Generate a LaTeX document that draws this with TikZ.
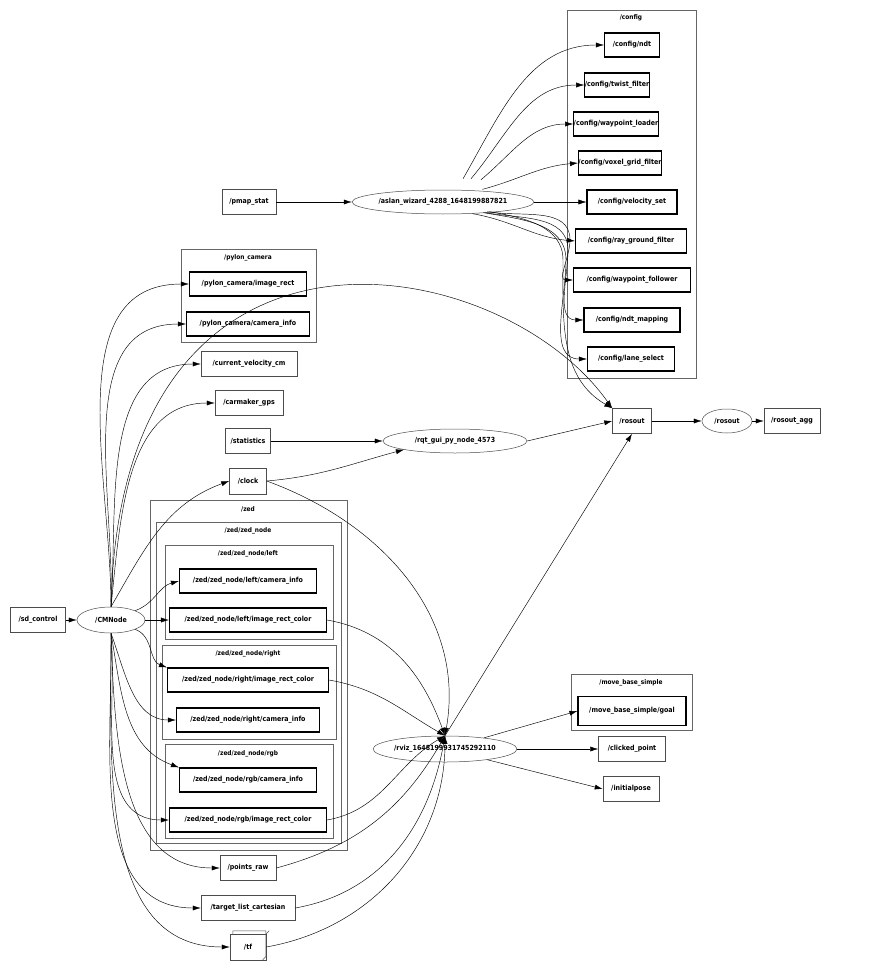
\documentclass[tikz,border=0pt]{standalone}
\usepackage{fontspec}
\setmainfont{DejaVu Sans Condensed}
\usetikzlibrary{arrows.meta,shapes.geometric}
\begin{document}
\begin{tikzpicture}[x=1pt,y=-1pt,
  every node/.style={font=\fontsize{7}{8}\selectfont\bfseries, inner sep=0pt},
  tp/.style={draw=black, line width=1.1pt, minimum height=24, rectangle},
  ft/.style={draw=black!70, line width=0.5pt, minimum height=25, rectangle},
  nd/.style={draw=black!70, line width=0.5pt, ellipse, minimum height=24},
  grp/.style={draw=black!60, line width=0.6pt},
  glab/.style={font=\fontsize{6.5}{8}\selectfont\bfseries},
  e/.style={draw=black, line width=0.45pt, -{Latex[length=8pt,width=5pt]}}]
\useasboundingbox (0,0) rectangle (874,971);
% groups
\draw[grp] (567,10) rectangle (696,378); \node[glab] at (631,18) {/config};
\draw[grp] (181,249) rectangle (316,342); \node[glab] at (248,258) {/pylon\_camera};
\draw[grp] (150,500) rectangle (347,850); \node[glab] at (248,509) {/zed};
\draw[grp] (156,522) rectangle (341,843); \node[glab] at (248,531) {/zed/zed\_node};
\draw[grp] (165,545) rectangle (333,639); \node[glab] at (248,554) {/zed/zed\_node/left};
\draw[grp] (162,645) rectangle (336,739); \node[glab] at (248,654) {/zed/zed\_node/right};
\draw[grp] (165,744) rectangle (333,838); \node[glab] at (248,754) {/zed/zed\_node/rgb};
\draw[grp] (571,674) rectangle (692,730); \node[glab] at (631,683) {/move\_base\_simple};
% config topics
\node[tp,minimum width=55] (ndt) at (632,45) {/config/ndt};
\node[tp,minimum width=57] (twist) at (617,85) {/config/twist\_filter};
\node[tp,minimum width=79] (wl) at (616,124) {/config/waypoint\_loader};
\node[tp,minimum width=74] (vox) at (620,163) {/config/voxel\_grid\_filter};
\node[tp,minimum width=90] (vel) at (632,202) {/config/velocity\_set};
\node[tp,minimum width=111] (ray) at (631,241) {/config/ray\_ground\_filter};
\node[tp,minimum width=117] (wf) at (632,280) {/config/waypoint\_follower};
\node[tp,minimum width=96] (ndtm) at (632,320) {/config/ndt\_mapping};
\node[tp,minimum width=87] (lane) at (631,359) {/config/lane\_select};
% other
\node[ft,minimum width=54] (pmap) at (249,202) {/pmap\_stat};
\node[nd,minimum width=180] (aslan) at (443,202) {/aslan\_wizard\_4288\_1648199887821};
\node[ft,minimum width=39] (rosoutT) at (632,421) {/rosout};
\node[nd,minimum width=50] (rosoutN) at (727,421) {/rosout};
\node[ft,minimum width=56] (agg) at (792,421) {/rosout\_agg};
\node[nd,minimum width=144] (rqt) at (455,441) {/rqt\_gui\_py\_node\_4573};
\node[ft,minimum width=45] (stat) at (248,441) {/statistics};
\node[ft,minimum width=37,minimum height=26] (clock) at (248,481) {/clock};
\node[tp,minimum width=117] (pir) at (248,284) {/pylon\_camera/image\_rect};
\node[tp,minimum width=123] (pci) at (248,324) {/pylon\_camera/camera\_info};
\node[ft,minimum width=96] (cvc) at (249,364) {/current\_velocity\_cm};
\node[ft,minimum width=68] (gps) at (249,403) {/carmaker\_gps};
\node[tp,minimum width=137] (lci) at (248,581) {/zed/zed\_node/left/camera\_info};
\node[tp,minimum width=157] (lir) at (248,620) {/zed/zed\_node/left/image\_rect\_color};
\node[tp,minimum width=161] (rir) at (248,680) {/zed/zed\_node/right/image\_rect\_color};
\node[tp,minimum width=143] (rci) at (248,720) {/zed/zed\_node/right/camera\_info};
\node[tp,minimum width=137] (gci) at (248,780) {/zed/zed\_node/rgb/camera\_info};
\node[tp,minimum width=157] (gir) at (248,820) {/zed/zed\_node/rgb/image\_rect\_color};
\node[ft,minimum width=55] (sd) at (38,620) {/sd\_control};
\node[nd,minimum width=68,minimum height=26] (cm) at (111,620) {/CMNode};
\node[ft,minimum width=56] (pts) at (248,868) {/points\_raw};
\node[ft,minimum width=94] (tlc) at (248,908) {/target\_list\_cartesian};
\node[ft,minimum width=36,minimum height=26] (tf) at (248,947) {/tf};
\draw[black!70,line width=0.5pt] (tf.north west)++(3,0) -- ++(0,-3) -- ++(33,0) -- ++(0,26) -- ++(-3,3);
\draw[black!70,line width=0.5pt] (tf.north east)++(0,0) -- ++(3,-3);
\node[nd,minimum width=140,minimum height=26] (rviz) at (445,749) {/rviz\_1648199931745292110};
\node[tp,minimum width=108,minimum height=29] (goal) at (632,711) {/move\_base\_simple/goal};
\node[ft,minimum width=67] (click) at (632,749) {/clicked\_point};
\node[ft,minimum width=56] (ipose) at (631,789) {/initialpose};
% edges
\draw[e] (sd) -- (cm);
\draw[e] (pmap) -- (aslan);
\draw[e] (aslan.north) ++(20,-11) to[out=60,in=180] (ndt.west);
\draw[e] (aslan.north) ++(28,-11) to[out=50,in=180] (twist.west);
\draw[e] (aslan.north) ++(38,-10) to[out=40,in=180] (wl.west);
\draw[e] (aslan.north east) ++(-25,-4) to[out=15,in=185] (vox.west);
\draw[e] (aslan) -- (vel);
\draw[e] (aslan.south east) ++(-35,3) to[out=-10,in=175] (ray.west);
\draw[e] (aslan.south east) ++(-20,1) to[out=-10,in=90] (570,240) to[out=-90,in=180] (wf.west);
\draw[e] (aslan.south east) ++(-22,2) to[out=-10,in=90] (568,250) to[out=-90,in=180] (ndtm.west);
\draw[e] (aslan.south east) ++(-24,2) to[out=-10,in=90] (566,260) to[out=-90,in=180] (lane.west);
\draw[e] (aslan.south east) ++(-18,1) to[out=-10,in=90] (563,260) to[out=-90,in=150] (rosoutT.north west);
\draw[e] (cm.north) ++(0,0) .. controls (120,180) and (500,250) .. (rosoutT.north west);
\draw[e] (stat) -- (rqt);
\draw[e] (clock.east) to[out=5,in=195] (rqt.south west);
\draw[e] (rqt.east) -- (rosoutT.west);
\draw[e] (rosoutT) -- (rosoutN);
\draw[e] (rosoutN) -- (agg);
\draw[e] (cm.north) to[out=90,in=180] (pir.west);
\draw[e] (cm.north) to[out=88,in=180] (pci.west);
\draw[e] (cm.north) to[out=86,in=180] (cvc.west);
\draw[e] (cm.north) to[out=84,in=180] (gps.west);
\draw[e] (cm.north) to[out=60,in=200] (clock.west);
\draw[e] (cm.north east) to[out=20,in=195] (lci.west);
\draw[e] (cm) -- (lir);
\draw[e] (cm.south east) to[out=-20,in=160] (rir.north west);
\draw[e] (cm.south) to[out=-70,in=180] (rci.west);
\draw[e] (cm.south) to[out=-80,in=160] (gci.north west);
\draw[e] (cm.south) to[out=-85,in=180] (gir.west);
\draw[e] (cm.south) to[out=-88,in=180] (pts.west);
\draw[e] (cm.south) to[out=-89,in=180] (tlc.west);
\draw[e] (cm.south) to[out=-90,in=180] (tf.west);
\draw[e] (clock.east) to[out=-20,in=80] (rviz.north);
\draw[e] (lir.east) to[out=-10,in=110] (rviz.north);
\draw[e] (rir.east) to[out=-10,in=150] (rviz.north);
\draw[e] (gir.east) to[out=10,in=-150] (rviz.north);
\draw[e] (pts.east) to[out=15,in=-120] (rviz.north);
\draw[e] (tlc.east) to[out=10,in=-100] (rviz.north);
\draw[e] (tf.east) to[out=10,in=-90] (rviz.north);
\draw[e] (rviz.north) -- (rosoutT.south);
\draw[e] (rviz) -- (goal.west);
\draw[e] (rviz) -- (click);
\draw[e] (rviz) -- (ipose.west);
\end{tikzpicture}
\end{document}
